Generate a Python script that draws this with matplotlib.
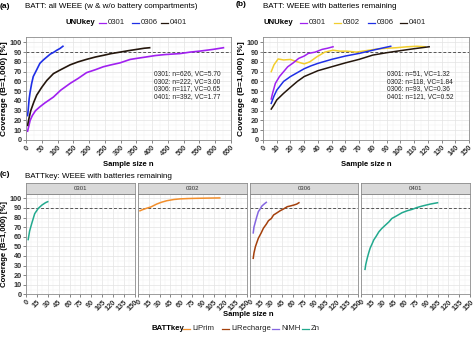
import matplotlib
matplotlib.use("Agg")
import matplotlib.pyplot as plt
from matplotlib.lines import Line2D
from matplotlib.ticker import MultipleLocator

plt.rcParams['font.family'] = ['Liberation Sans', 'DejaVu Sans']

# ---- panel (a): all WEEE ----
a_0301_n = [5, 8, 13, 20, 30, 44, 60, 87, 110, 140, 165, 192, 220, 245, 270, 298, 330, 351, 380, 410, 440, 488, 520, 550, 593, 626]
a_0301_v = [9, 13, 20, 25, 30, 34, 38, 44, 51, 58, 63, 69, 72, 75, 77, 79, 82.5, 83.6, 85, 86.5, 87.5, 88.5, 90, 91, 92.8, 94.5]
a_0306_n = [5, 7, 10, 13, 18, 23, 34, 44, 55, 66, 77, 87, 98, 108, 117]
a_0306_v = [25, 31, 42, 49, 58, 65, 72, 78.5, 82, 85, 88, 89.7, 92, 93.8, 96]
a_0401_n = [5, 8, 15, 25, 34, 50, 66, 87, 110, 140, 165, 192, 220, 245, 270, 298, 325, 351, 375, 392]
a_0401_v = [15, 20, 30, 39, 46, 54, 61, 68, 72, 77, 80, 82.6, 85, 86.7, 88.5, 90, 91.5, 92.8, 94, 94.5]
a_notes = ["0301: n=626, VC=5.70", "0302: n=222, VC=3.00", "0306: n=117, VC=0.65", "0401: n=392, VC=1.77"]

# ---- panel (b): WEEE with batteries remaining ----
b_0301_n = [6, 7, 9, 12, 15, 18, 22, 26, 30, 33, 38, 43, 47, 51]
b_0301_v = [42, 48, 58, 65, 70, 75, 79, 83.6, 86, 88.7, 90, 92.8, 94, 95.5]
b_0302_n = [6, 8, 11, 15, 20, 25, 30, 34, 39, 45, 51, 56, 61, 68, 75, 82, 90, 97, 105, 112, 118]
b_0302_v = [70, 77, 83, 82, 82.5, 80, 78, 80, 85, 90, 92, 91, 91, 90, 91.5, 93, 94, 94.5, 95.5, 96, 95.5]
b_0306_n = [6, 8, 10, 15, 20, 25, 30, 35, 40, 50, 60, 70, 80, 88, 93]
b_0306_v = [37.5, 45, 51, 60, 65, 69, 73, 76, 78.5, 82.6, 86, 88.7, 92, 94.5, 96]
b_0401_n = [6, 8, 10, 15, 20, 25, 30, 35, 40, 50, 60, 70, 80, 90, 100, 110, 121]
b_0401_v = [31.7, 36, 41, 47.8, 54, 60, 65, 68, 71, 75, 79, 82.6, 87, 89.4, 91.5, 93.5, 95.5]
b_notes = ["0301: n=51, VC=1.32", "0302: n=118, VC=1.84", "0306: n=93, VC=0.36", "0401: n=121, VC=0.52"]

# ---- panel (c): by battery key ----
c_0301_zn_n = [3, 5, 8, 12, 17, 22, 27, 30]
c_0301_zn_v = [57, 66, 74, 84, 89.6, 93, 95.5, 96.5]
c_0302_li_n = [3, 6, 12, 18, 26, 33, 40, 50, 58, 70, 81, 95, 113]
c_0302_li_v = [87, 88, 89.6, 91, 94, 96, 97.5, 98.8, 99.4, 99.8, 100, 100.2, 100.4]
c_0306_nimh_n = [5, 6, 8, 10, 12, 15, 17, 20, 23]
c_0306_nimh_v = [64, 70, 75.6, 81, 86, 89.5, 92, 94, 95.8]
c_0306_lirc_n = [5, 6, 8, 10, 12, 16, 19, 23, 26, 30, 33, 38, 42, 47, 52, 56, 61, 65, 68]
c_0306_lirc_v = [37.5, 43, 49.6, 54, 58.3, 64, 68.8, 73, 76.7, 79, 82.6, 85, 87, 89, 91.3, 92, 93, 94, 95.4]
c_0401_zn_n = [5, 6, 8, 10, 12, 15, 17, 20, 24, 28, 33, 38, 42, 48, 56, 63, 70, 77, 84, 95, 105]
c_0401_zn_v = [26, 31, 37.5, 43, 48, 53, 56.6, 60, 65, 68.5, 72, 75.5, 79, 81.5, 85, 87, 88.5, 90.5, 92, 94, 95.4]
c_facets = ["0301", "0302", "0306", "0401"]
c_keys = ["LiPrim", "LiRecharge", "NiMH", "Zn"]

col = {"0301": "#A020F0", "0302": "#F2CE2E", "0306": "#1F2FE6", "0401": "#24160C",
       "LiPrim": "#F28E2B", "LiRecharge": "#A4400C", "NiMH": "#8466E0", "Zn": "#22A98E"}

W, H = 474, 338
fig = plt.figure(figsize=(W / 100, H / 100), dpi=100)


def px_axes(x0, y0, x1, y1):
    return fig.add_axes([x0 / W, 1 - y1 / H, (x1 - x0) / W, (y1 - y0) / H])


def style(ax, xmax, xmaj, ylabels=True, ytop=105.5):
    ax.set_xlim(0, xmax)
    ax.set_ylim(0, ytop)
    ax.xaxis.set_major_locator(MultipleLocator(xmaj))
    ax.xaxis.set_minor_locator(MultipleLocator(xmaj / 2))
    ax.set_yticks(range(0, 101, 10))
    ax.yaxis.set_minor_locator(MultipleLocator(5))
    ax.grid(which='major', color='#e3e3e3', lw=0.5)
    ax.grid(which='minor', color='#f0f0f0', lw=0.35)
    ax.set_axisbelow(True)
    for s in ax.spines.values():
        s.set_color('#8c8c8c')
        s.set_linewidth(0.6)
    ax.tick_params(which='major', length=2, width=0.5, color='#555555', labelsize=5.3,
                   labelcolor='#333333', pad=1)
    ax.tick_params(which='minor', length=0)
    for lab in ax.get_xticklabels() + ax.get_yticklabels():
        lab.set_fontweight('bold')
    for lab in ax.get_xticklabels():
        lab.set_rotation(45)
        lab.set_ha('right')
        lab.set_rotation_mode('anchor')
    if not ylabels:
        ax.set_yticklabels([])
        ax.tick_params(axis='y', length=0)
    ax.axhline(90, color='#555555', lw=0.7, ls=(0, (3, 2)), zorder=1)


def legend_row(items, title, tx, y, fs=5.6):
    fig.text(tx / W, 1 - y / H, title, fontsize=fs, fontweight='bold', va='center')
    for x0, lbl, c in items:
        fig.add_artist(Line2D([x0 / W, (x0 + 7) / W], [1 - y / H, 1 - y / H],
                              color=c, lw=0.9, transform=fig.transFigure))
        fig.text((x0 + 9) / W, 1 - y / H, lbl, fontsize=fs, va='center', color='#222222')


# panel (a)
ax = px_axes(26, 37, 231, 140)
style(ax, 650, 50)
ax.plot(a_0301_n, a_0301_v, color=col["0301"], lw=1.2)
ax.plot(a_0401_n, a_0401_v, color=col["0401"], lw=1.2)
ax.plot(a_0306_n, a_0306_v, color=col["0306"], lw=1.2)
for i, t in enumerate(a_notes):
    ax.text(406, 68 - 7.9 * i, t, fontsize=4.8, color='#222222', va='center')
ax.set_xlabel("Sample size n", fontsize=5.5, fontweight='bold', labelpad=2)
ax.set_ylabel("Coverage (B=1,000) [%]", fontsize=6, fontweight='bold', labelpad=1)
fig.text(0 / W, 1 - 6 / H, "(a)", fontsize=6, fontweight='bold', va='center')
fig.text(25 / W, 1 - 6 / H, "BATT: all WEEE (w & w/o battery compartments)", fontsize=5.8, va='center')
legend_row([(99, "0301", col["0301"]), (132, "0306", col["0306"]), (161, "0401", col["0401"])],
           "UNUkey", 65, 22.7)

# panel (b)
ax = px_axes(263, 37, 469, 140)
style(ax, 150, 10)
ax.plot(b_0302_n, b_0302_v, color=col["0302"], lw=1.1)
ax.plot(b_0306_n, b_0306_v, color=col["0306"], lw=1.1)
ax.plot(b_0401_n, b_0401_v, color=col["0401"], lw=1.1)
ax.plot(b_0301_n, b_0301_v, color=col["0301"], lw=1.1)
for i, t in enumerate(b_notes):
    ax.text(90, 68 - 7.9 * i, t, fontsize=4.8, color='#222222', va='center')
ax.set_xlabel("Sample size n", fontsize=5.5, fontweight='bold', labelpad=2)
ax.set_ylabel("Coverage (B=1,000) [%]", fontsize=6, fontweight='bold', labelpad=1)
fig.text(236 / W, 1 - 5 / H, "(b)", fontsize=6, fontweight='bold', va='center')
fig.text(263 / W, 1 - 6 / H, "BATT: WEEE with batteries remaining", fontsize=5.8, va='center')
legend_row([(300, "0301", col["0301"]), (334, "0302", col["0302"]),
            (368, "0306", col["0306"]), (400, "0401", col["0401"])], "UNUkey", 263, 22.7)

# panel (c) facets
series = {"0301": [(c_0301_zn_n, c_0301_zn_v, "Zn")],
          "0302": [(c_0302_li_n, c_0302_li_v, "LiPrim")],
          "0306": [(c_0306_lirc_n, c_0306_lirc_v, "LiRecharge"), (c_0306_nimh_n, c_0306_nimh_v, "NiMH")],
          "0401": [(c_0401_zn_n, c_0401_zn_v, "Zn")]}
for i, f in enumerate(c_facets):
    x0 = 26 + i * 111.8
    ax = px_axes(x0, 194, x0 + 108.8, 294.3)
    style(ax, 150, 15, ylabels=(i == 0), ytop=104.5)
    for n, v, k in series[f]:
        ax.plot(n, v, color=col[k], lw=1.1)
    sax = px_axes(x0, 183.3, x0 + 108.8, 194)
    sax.set_facecolor('#d9d9d9')
    sax.set_xticks([])
    sax.set_yticks([])
    for s in sax.spines.values():
        s.set_color('#8c8c8c')
        s.set_linewidth(0.6)
    sax.text(0.5, 0.5, f, fontsize=4.3, ha='center', va='center', color='#333333',
             transform=sax.transAxes)
    if i == 0:
        ax.set_ylabel("Coverage (B=1,000) [%]", fontsize=5.6, fontweight='bold', labelpad=1)

fig.text(248 / W, 1 - 314 / H, "Sample size n", fontsize=5.5, fontweight='bold', ha='center', va='center')
fig.text(0 / W, 1 - 174 / H, "(c)", fontsize=6, fontweight='bold', va='center')
fig.text(25 / W, 1 - 176 / H, "BATTkey: WEEE with batteries remaining", fontsize=5.8, va='center')
legend_row([(183, "LiPrim", col["LiPrim"]), (222, "LiRecharge", col["LiRecharge"]),
            (272, "NiMH", col["NiMH"]), (302, "Zn", col["Zn"])], "BATTkey", 152, 329)

fig.savefig("out.png", dpi=100)
